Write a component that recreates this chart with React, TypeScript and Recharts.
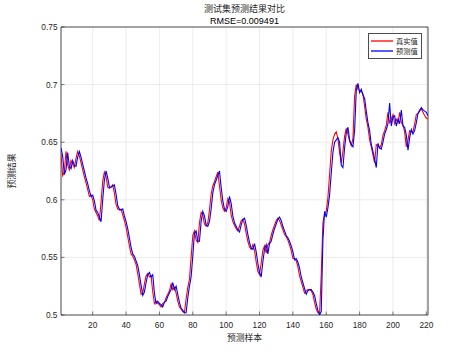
import React from 'react';
import { LineChart, Line, XAxis, YAxis, CartesianGrid, ReferenceArea, Legend } from 'recharts';

// 真实值 (samples 1..221)
const actual = [
  0.640, 0.621, 0.624, 0.642, 0.630, 0.626, 0.634, 0.631, 0.628, 0.636,
  0.642, 0.638, 0.632, 0.626, 0.620, 0.615, 0.609, 0.603, 0.604, 0.600,
  0.592, 0.589, 0.586, 0.582, 0.598, 0.616, 0.624, 0.620, 0.611, 0.610,
  0.611, 0.613, 0.606, 0.596, 0.592, 0.591, 0.592, 0.587, 0.582, 0.576,
  0.568, 0.560, 0.553, 0.551, 0.548, 0.544, 0.536, 0.527, 0.518, 0.519,
  0.527, 0.534, 0.536, 0.533, 0.534, 0.520, 0.510, 0.512, 0.510, 0.509,
  0.507, 0.510, 0.511, 0.515, 0.518, 0.521, 0.527, 0.522, 0.524, 0.519,
  0.512, 0.507, 0.505, 0.503, 0.502, 0.514, 0.524, 0.531, 0.550, 0.569,
  0.573, 0.565, 0.563, 0.580, 0.589, 0.587, 0.579, 0.577, 0.580, 0.591,
  0.605, 0.612, 0.616, 0.620, 0.624, 0.612, 0.600, 0.593, 0.590, 0.593,
  0.601, 0.598, 0.587, 0.581, 0.578, 0.575, 0.573, 0.577, 0.582, 0.583,
  0.579, 0.571, 0.564, 0.559, 0.557, 0.561, 0.556, 0.546, 0.538, 0.535,
  0.545, 0.556, 0.560, 0.554, 0.561, 0.563, 0.569, 0.574, 0.578, 0.582,
  0.584, 0.582, 0.578, 0.574, 0.570, 0.568, 0.565, 0.561, 0.556, 0.549,
  0.549, 0.547, 0.542, 0.534, 0.529, 0.524, 0.519, 0.521, 0.522, 0.522,
  0.521, 0.518, 0.511, 0.505, 0.502, 0.501, 0.535, 0.580, 0.588, 0.590,
  0.602, 0.622, 0.642, 0.652, 0.657, 0.659, 0.653, 0.641, 0.632, 0.642,
  0.655, 0.662, 0.657, 0.651, 0.647, 0.653, 0.690, 0.700, 0.696, 0.695,
  0.694, 0.692, 0.681, 0.670, 0.663, 0.652, 0.646, 0.639, 0.632, 0.648,
  0.647, 0.645, 0.648, 0.656, 0.660, 0.665, 0.676, 0.667, 0.670, 0.674,
  0.666, 0.670, 0.667, 0.676, 0.667, 0.665, 0.659, 0.646, 0.652, 0.660,
  0.659, 0.659, 0.666, 0.674, 0.675, 0.678, 0.679, 0.676, 0.673, 0.671,
  0.670,
];

// 预测值
const predicted = [
  0.645, 0.638, 0.622, 0.626, 0.641, 0.629, 0.627, 0.634, 0.630, 0.629,
  0.637, 0.642, 0.637, 0.631, 0.625, 0.619, 0.614, 0.608, 0.603, 0.604,
  0.599, 0.591, 0.589, 0.585, 0.581, 0.600, 0.617, 0.625, 0.619, 0.611,
  0.611, 0.612, 0.613, 0.605, 0.595, 0.592, 0.591, 0.592, 0.586, 0.581,
  0.575, 0.567, 0.559, 0.553, 0.551, 0.547, 0.543, 0.535, 0.526, 0.517,
  0.520, 0.528, 0.535, 0.537, 0.533, 0.535, 0.519, 0.510, 0.512, 0.510,
  0.509, 0.507, 0.511, 0.512, 0.516, 0.519, 0.522, 0.528, 0.522, 0.525,
  0.518, 0.511, 0.506, 0.504, 0.502, 0.502, 0.515, 0.525, 0.533, 0.551,
  0.571, 0.573, 0.564, 0.564, 0.581, 0.590, 0.586, 0.578, 0.577, 0.581,
  0.592, 0.606, 0.613, 0.617, 0.621, 0.625, 0.611, 0.599, 0.592, 0.590,
  0.594, 0.603, 0.597, 0.586, 0.580, 0.577, 0.574, 0.572, 0.578, 0.583,
  0.584, 0.578, 0.570, 0.563, 0.558, 0.557, 0.562, 0.555, 0.545, 0.537,
  0.533, 0.546, 0.557, 0.561, 0.553, 0.562, 0.564, 0.570, 0.575, 0.579,
  0.583, 0.585, 0.582, 0.577, 0.573, 0.569, 0.567, 0.564, 0.560, 0.555,
  0.548, 0.549, 0.546, 0.541, 0.533, 0.528, 0.523, 0.518, 0.521, 0.522,
  0.522, 0.520, 0.517, 0.510, 0.504, 0.500, 0.503, 0.565, 0.590, 0.585,
  0.593, 0.604, 0.623, 0.641, 0.650, 0.652, 0.654, 0.650, 0.630, 0.628,
  0.645, 0.658, 0.663, 0.652, 0.648, 0.646, 0.660, 0.695, 0.701, 0.693,
  0.696, 0.691, 0.688, 0.677, 0.667, 0.660, 0.648, 0.642, 0.635, 0.628,
  0.649, 0.645, 0.644, 0.650, 0.657, 0.661, 0.666, 0.684, 0.664, 0.672,
  0.673, 0.664, 0.670, 0.666, 0.678, 0.664, 0.663, 0.656, 0.643, 0.654,
  0.661, 0.657, 0.660, 0.667, 0.675, 0.677, 0.680, 0.678, 0.677, 0.676,
  0.673,
];

const xTicks = [20, 40, 60, 80, 100, 120, 140, 160, 180, 200, 220];
const yTicks = [0.5, 0.55, 0.6, 0.65, 0.7, 0.75];

const title = '测试集预测结果对比';
const subtitle = 'RMSE=0.009491';
const xLabel = '预测样本';
const yLabel = '预测结果';
const seriesNames = ['真实值', '预测值'];
const seriesColors = ['#ff0000', '#0000ff'];

const data = actual.map((v, i) => ({ idx: i + 1, actual: v, predicted: predicted[i] }));

const AXIS = '#262626';
const SANS = '"Liberation Sans", Arial, sans-serif';
const CJK = '"Noto Sans CJK SC", sans-serif';

const fmt = (v: number) => String(Number(v.toFixed(2)));

const BottomTick = (props: any) => {
  const { x, y, payload } = props;
  return (
    <g>
      <line x1={x} x2={x} y1={y} y2={y - 3.5} stroke={AXIS} strokeWidth={0.6} />
      <text x={x} y={y + 13} textAnchor="middle" fontSize={8.3} fill={AXIS} fontFamily={SANS}>
        {payload.value}
      </text>
    </g>
  );
};

const TopTick = (props: any) => {
  const { x, y } = props;
  return <line x1={x} x2={x} y1={y} y2={y + 3.5} stroke={AXIS} strokeWidth={0.6} />;
};

const LeftTick = (props: any) => {
  const { x, y, payload } = props;
  return (
    <g>
      <line x1={x} x2={x + 3.5} y1={y} y2={y} stroke={AXIS} strokeWidth={0.6} />
      <text x={x - 3.5} y={y + 3} textAnchor="end" fontSize={8.3} fill={AXIS} fontFamily={SANS}>
        {fmt(payload.value)}
      </text>
    </g>
  );
};

const RightTick = (props: any) => {
  const { x, y } = props;
  return <line x1={x} x2={x - 3.5} y1={y} y2={y} stroke={AXIS} strokeWidth={0.6} />;
};

const LegendBox = () => (
  <div
    style={{
      border: '1px solid #4d4d4d',
      background: '#fff',
      width: 54,
      padding: 2,
      boxSizing: 'border-box',
    }}
  >
    {seriesNames.map((name, i) => (
      <div key={name} style={{ display: 'flex', alignItems: 'center', height: 10 }}>
        <svg width={22} height={4} style={{ marginRight: 3, display: 'block' }}>
          <line x1={0} x2={22} y1={2} y2={2} stroke={seriesColors[i]} strokeWidth={1.3} />
        </svg>
        <span style={{ fontSize: 7.3, fontFamily: CJK, color: AXIS, lineHeight: '10px' }}>{name}</span>
      </div>
    ))}
  </div>
);

export default function App() {
  return (
    <div style={{ position: 'absolute', left: 0, top: 0, width: 474, height: 355, background: '#fff' }}>
      <div
        style={{
          position: 'absolute', left: 0, width: 489, top: 3, textAlign: 'center',
          fontSize: 9, fontFamily: CJK, color: AXIS, lineHeight: '12px',
        }}
      >
        {title}
      </div>
      <div
        style={{
          position: 'absolute', left: 0, width: 489, top: 15, textAlign: 'center',
          fontSize: 9, fontFamily: SANS, color: '#000', lineHeight: '12px',
        }}
      >
        {subtitle}
      </div>
      <div
        style={{
          position: 'absolute', left: 0, width: 489, top: 332, textAlign: 'center',
          fontSize: 8.8, fontFamily: CJK, color: AXIS, lineHeight: '12px',
        }}
      >
        {xLabel}
      </div>
      <div
        style={{
          position: 'absolute', left: 12, top: 171, transform: 'translate(-50%, -50%) rotate(-90deg)',
          fontSize: 8.8, fontFamily: CJK, color: AXIS, whiteSpace: 'nowrap', lineHeight: '12px',
        }}
      >
        {yLabel}
      </div>
      <LineChart
        width={474}
        height={355}
        data={data}
        margin={{ top: 27, right: 46, left: 0, bottom: 0 }}
        style={{ position: 'absolute', left: 0, top: 0 }}
      >
        <CartesianGrid stroke="#e4e4e4" strokeWidth={0.7} />
        <XAxis
          dataKey="idx"
          type="number"
          domain={[1, 221]}
          ticks={xTicks}
          allowDataOverflow
          height={40}
          axisLine={false}
          tickLine={false}
          tickSize={0}
          tickMargin={0}
          tick={<BottomTick />}
          interval={0}
        />
        <XAxis
          xAxisId="top"
          orientation="top"
          dataKey="idx"
          type="number"
          domain={[1, 221]}
          ticks={xTicks}
          height={0}
          axisLine={false}
          tickLine={false}
          tickSize={0}
          tickMargin={0}
          tick={<TopTick />}
          interval={0}
        />
        <YAxis
          type="number"
          domain={[0.5, 0.75]}
          ticks={yTicks}
          allowDataOverflow
          width={61}
          axisLine={false}
          tickLine={false}
          tickSize={0}
          tickMargin={0}
          tick={<LeftTick />}
          interval={0}
        />
        <YAxis
          yAxisId="right"
          orientation="right"
          type="number"
          domain={[0.5, 0.75]}
          ticks={yTicks}
          width={0}
          axisLine={false}
          tickLine={false}
          tickSize={0}
          tickMargin={0}
          tick={<RightTick />}
          interval={0}
        />
        <ReferenceArea x1={1} x2={221} y1={0.5} y2={0.75} fill="none" stroke={AXIS} strokeWidth={0.8} />
        <Line
          name={seriesNames[0]}
          dataKey="actual"
          stroke={seriesColors[0]}
          strokeWidth={1.1}
          dot={false}
          isAnimationActive={false}
        />
        <Line
          name={seriesNames[1]}
          dataKey="predicted"
          stroke={seriesColors[1]}
          strokeWidth={1.1}
          dot={false}
          isAnimationActive={false}
        />
        <Legend
          layout="horizontal"
          verticalAlign="middle"
          align="center"
          content={<LegendBox />}
          wrapperStyle={{ position: 'absolute', left: 368, top: 33, width: 56 }}
        />
      </LineChart>
    </div>
  );
}
